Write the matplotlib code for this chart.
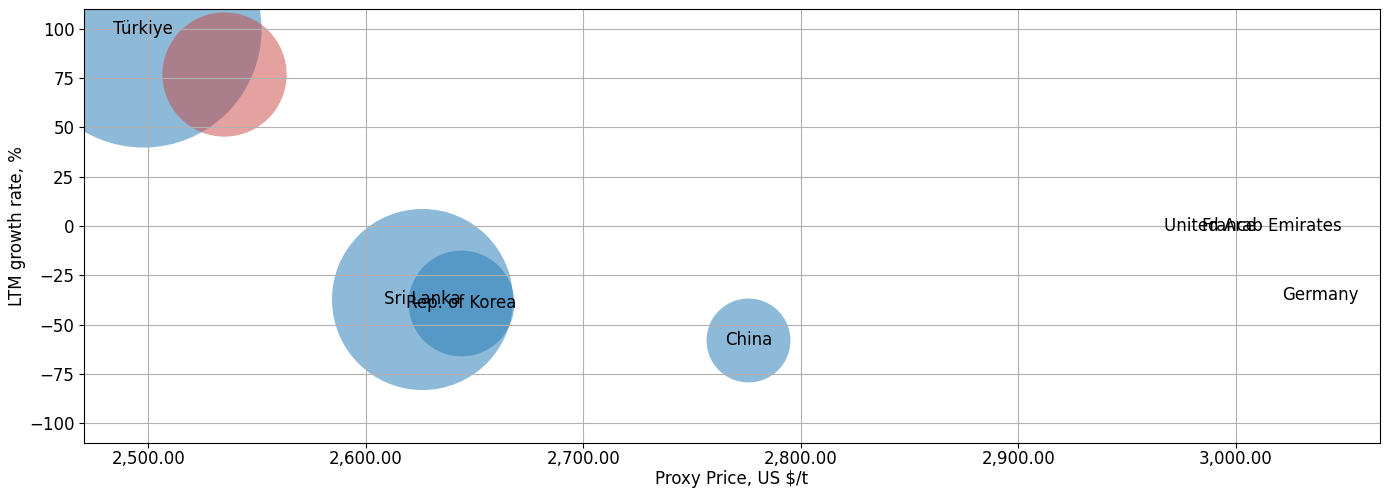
import numpy as np
import matplotlib
matplotlib.use("Agg")
import matplotlib.pyplot as plt
from matplotlib.ticker import FuncFormatter

# proxy price (US $/t), LTM growth rate (%), bubble size (volume)
countries = ["Türkiye", "", "Sri Lanka", "Rep. of Korea", "China",
             "United Arab Emirates", "France", "Germany"]
price = [2497.5, 2535, 2626, 2644, 2776, 3008, 2997, 3039]
growth = [100, 77, -37, -39, -58, 0, 0, -35]
volume = [28900, 8000, 17000, 5800, 3650, 0, 0, 0]
colors = ["tab:blue", "#c94441", "tab:blue", "tab:blue", "tab:blue",
          "tab:blue", "tab:blue", "tab:blue"]

fig = plt.figure(figsize=(13.87, 4.88), dpi=100)
ax = fig.add_axes([0.0606, 0.0922, 0.9344, 0.8894])

for i in range(len(countries)):
    ax.scatter(price[i], growth[i], s=volume[i], color=colors[i], alpha=0.5, linewidths=0)
    if countries[i]:
        ax.text(price[i], growth[i], countries[i], ha="center", va="center", fontsize=12)

ax.set_xlim(2470.5, 3066.4)
ax.set_ylim(-110, 110)
ax.xaxis.set_major_formatter(FuncFormatter(lambda v, p: "{:,.2f}".format(v)))
ax.tick_params(labelsize=12)
ax.tick_params(axis="x", pad=1.5)
ax.set_xlabel("Proxy Price, US $/t", fontsize=12, labelpad=1.5)
ax.set_ylabel("LTM growth rate, %", fontsize=12, labelpad=2)
ax.grid(True)

plt.savefig("out.png", dpi=100)
